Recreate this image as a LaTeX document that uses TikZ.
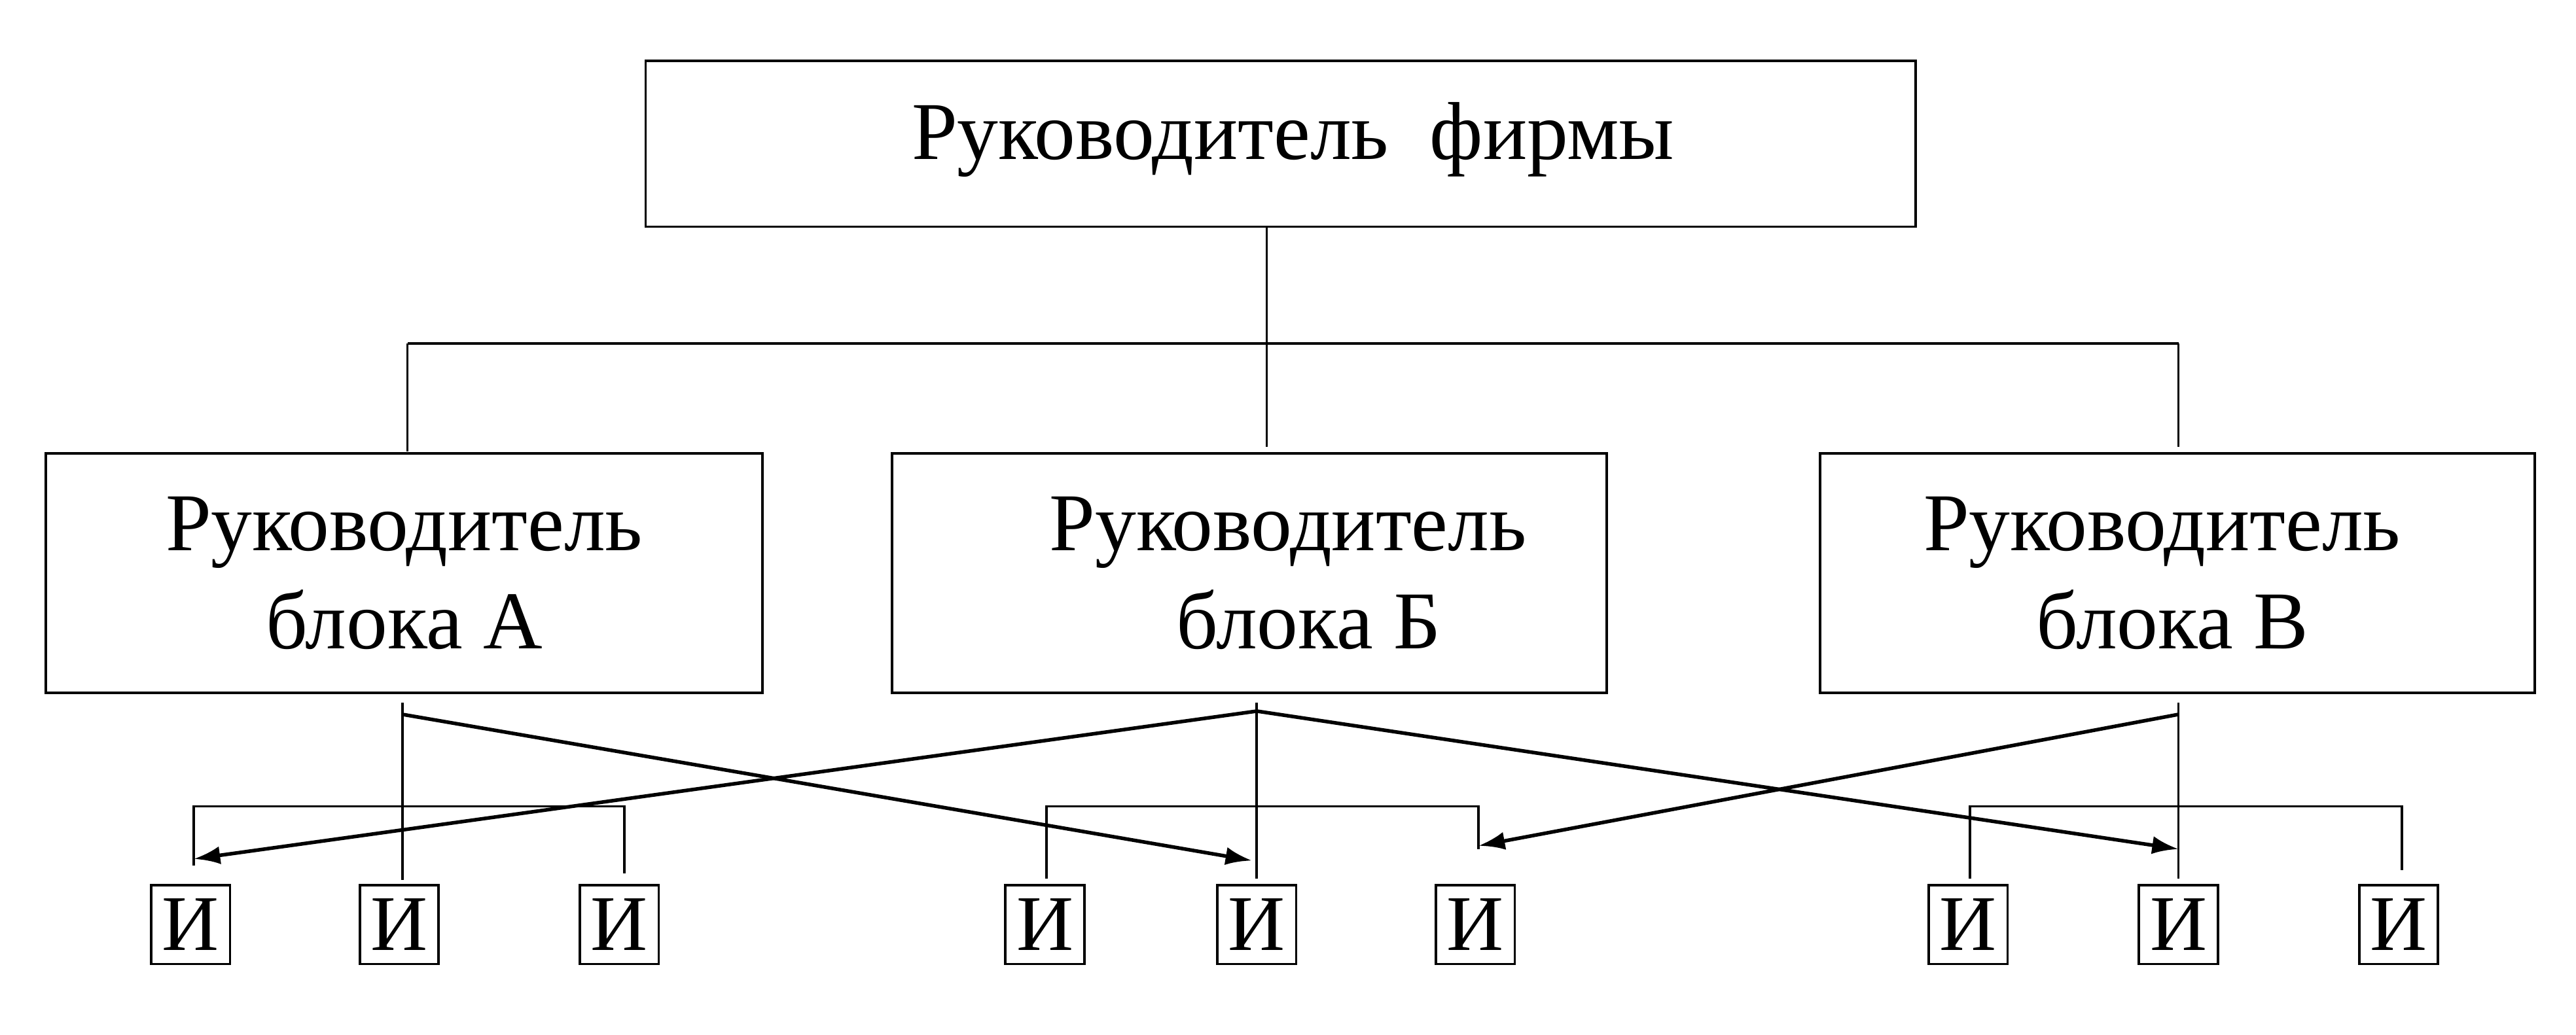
\documentclass[tikz,border=0pt]{standalone}
\usepackage{fontspec}
\setmainfont{Liberation Serif}
\usetikzlibrary{arrows.meta}
\begin{document}
\begin{tikzpicture}[x=1pt,y=-1pt,
  box/.style={draw,line width=1.5pt,inner sep=0pt},
  ibox/.style={draw,line width=1.5pt,minimum width=48pt,minimum height=48pt,inner sep=0pt,font=\fontsize{48}{50}\selectfont},
  ln/.style={line width=1.5pt},
  arr/.style={line width=2.2pt,-{Latex[length=16pt,width=11pt]}},
  big/.style={font=\fontsize{50}{60}\selectfont,align=center}]
\useasboundingbox (0,0) rectangle (1568,630);
\node[box,minimum width=773pt,minimum height=101pt] (top) at (779.5,87.5) {};
\node[big] at (787,85) {Руководитель\ \ фирмы};
\node[box,minimum width=436pt,minimum height=146pt] (A) at (246,349) {};
\node[box,minimum width=435pt,minimum height=146pt] (B) at (760.5,349) {};
\node[box,minimum width=435pt,minimum height=146pt] (V) at (1325.5,349) {};
\node[big] at (246,349) {Руководитель\\блока А};
\node[big] at (784,349) {Руководитель\\\ \ блока Б};
\node[big] at (1316,349) {Руководитель\\\ блока В};
\foreach \n/\x in {a1/116,a2/243,a3/377,b1/636,b2/765,b3/898,c1/1198,c2/1326,c3/1460}
  \node[ibox] (\n) at (\x,563) {И};
\coordinate (h1) at (248,209); \coordinate (h2) at (1326,209);
\draw[ln] (771,138) -- (771,272);
\draw[ln] (h1) -- (h2);
\draw[ln] (h1) -- (248,275);
\draw[ln] (h2) -- (1326,272);
\draw[ln] (245,428) -- (245,536);
\draw[ln] (118,527) -- (118,491) -- (380,491) -- (380,532);
\draw[ln] (765,428) -- (765,535);
\draw[ln] (637,535) -- (637,491) -- (900,491) -- (900,517);
\draw[ln] (1326,428) -- (1326,535);
\draw[ln] (1199,535) -- (1199,491) -- (1462,491) -- (1462,530);
\draw[arr] (245,435) -- (762,524);
\draw[arr] (765,433) -- (118,523);
\draw[arr] (765,433) -- (1326,517);
\draw[arr] (1326,435) -- (900,515);
\end{tikzpicture}
\end{document}
